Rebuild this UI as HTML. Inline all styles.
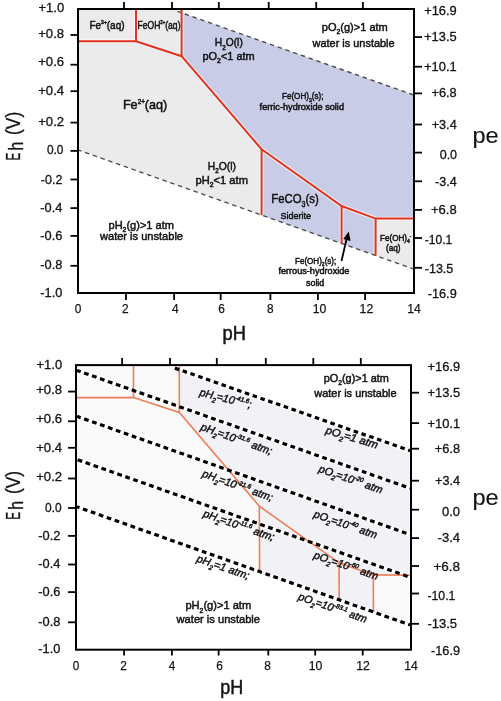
<!DOCTYPE html>
<html><head><meta charset="utf-8"><title>Iron Pourbaix diagram</title>
<style>
html,body{margin:0;padding:0;background:#fff;}
svg{display:block;font-family:"Liberation Sans", Arial, sans-serif;}
text{stroke:#141414;}
</style></head>
<body>
<svg width="501" height="701" viewBox="0 0 501 701">
<rect width="501" height="701" fill="#ffffff"/>
<rect x="78" y="9" width="336" height="284" fill="#ffffff"/>
<polygon points="79.00,10.00 177.60,10.00 177.60,11.43 413.00,94.77 413.00,268.89 79.00,150.32" fill="#ebebeb"/>
<polygon points="181.60,12.85 413.00,94.77 413.00,218.60 375.60,218.60 375.60,255.62 341.60,243.55 261.60,215.15 261.60,149.20 181.60,56.20" fill="#c9cce6"/>
<polyline points="79.00,41.20 136.00,41.20 181.60,56.20 261.60,149.20 341.60,206.00 375.60,218.60 413.00,218.60" fill="none" stroke="#f6f6f6" stroke-width="3.9" stroke-linejoin="miter"/>
<polyline points="136.00,10.00 136.00,41.20" fill="none" stroke="#f6f6f6" stroke-width="3.9" stroke-linejoin="miter"/>
<polyline points="181.60,10.00 181.60,56.20" fill="none" stroke="#f6f6f6" stroke-width="3.9" stroke-linejoin="miter"/>
<polyline points="261.60,149.20 261.60,215.15" fill="none" stroke="#f6f6f6" stroke-width="3.9" stroke-linejoin="miter"/>
<polyline points="341.60,206.00 341.60,243.55" fill="none" stroke="#f6f6f6" stroke-width="3.9" stroke-linejoin="miter"/>
<polyline points="375.60,218.60 375.60,255.62" fill="none" stroke="#f6f6f6" stroke-width="3.9" stroke-linejoin="miter"/>
<line x1="79.00" y1="150.32" x2="413.00" y2="268.89" stroke="#4a4a4a" stroke-width="1.4" stroke-dasharray="4.46 3.76" stroke-dashoffset="1.85"/>
<line x1="177.60" y1="11.43" x2="413.00" y2="94.77" stroke="#4a4a4a" stroke-width="1.4" stroke-dasharray="4.35 3.86" stroke-dashoffset="0.57"/>
<polyline points="79.00,41.20 136.00,41.20 181.60,56.20 261.60,149.20 341.60,206.00 375.60,218.60 413.00,218.60" fill="none" stroke="#e0321f" stroke-width="2" stroke-linejoin="miter"/>
<polyline points="136.00,10.00 136.00,41.20" fill="none" stroke="#e0321f" stroke-width="2" stroke-linejoin="miter"/>
<polyline points="181.60,10.00 181.60,56.20" fill="none" stroke="#e0321f" stroke-width="2" stroke-linejoin="miter"/>
<polyline points="261.60,149.20 261.60,215.15" fill="none" stroke="#e0321f" stroke-width="2" stroke-linejoin="miter"/>
<polyline points="341.60,206.00 341.60,243.55" fill="none" stroke="#e0321f" stroke-width="2" stroke-linejoin="miter"/>
<polyline points="375.60,218.60 375.60,255.62" fill="none" stroke="#e0321f" stroke-width="2" stroke-linejoin="miter"/>
<line x1="341.50" y1="261.00" x2="346.60" y2="239.00" stroke="#000" stroke-width="1.8"/>
<polygon points="348.80,231.50 343.30,239.00 350.60,241.00" fill="#000"/>
<rect x="78" y="9" width="336" height="284" fill="none" stroke="#000" stroke-width="2"/>
<line x1="124.00" y1="2.00" x2="124.00" y2="9.00" stroke="#000" stroke-width="1.8"/>
<line x1="172.00" y1="2.00" x2="172.00" y2="9.00" stroke="#000" stroke-width="1.8"/>
<line x1="218.80" y1="2.00" x2="218.80" y2="9.00" stroke="#000" stroke-width="1.8"/>
<line x1="268.70" y1="2.00" x2="268.70" y2="9.00" stroke="#000" stroke-width="1.8"/>
<line x1="316.20" y1="2.00" x2="316.20" y2="9.00" stroke="#000" stroke-width="1.8"/>
<line x1="362.90" y1="2.00" x2="362.90" y2="9.00" stroke="#000" stroke-width="1.8"/>
<line x1="126.00" y1="293.00" x2="126.00" y2="300.00" stroke="#000" stroke-width="1.8"/>
<line x1="174.10" y1="293.00" x2="174.10" y2="300.00" stroke="#000" stroke-width="1.8"/>
<line x1="220.70" y1="293.00" x2="220.70" y2="300.00" stroke="#000" stroke-width="1.8"/>
<line x1="270.40" y1="293.00" x2="270.40" y2="300.00" stroke="#000" stroke-width="1.8"/>
<line x1="317.90" y1="293.00" x2="317.90" y2="300.00" stroke="#000" stroke-width="1.8"/>
<line x1="365.10" y1="293.00" x2="365.10" y2="300.00" stroke="#000" stroke-width="1.8"/>
<line x1="70.50" y1="35.00" x2="78.00" y2="35.00" stroke="#000" stroke-width="1.8"/>
<line x1="70.50" y1="64.70" x2="78.00" y2="64.70" stroke="#000" stroke-width="1.8"/>
<line x1="70.50" y1="91.20" x2="78.00" y2="91.20" stroke="#000" stroke-width="1.8"/>
<line x1="70.50" y1="122.60" x2="78.00" y2="122.60" stroke="#000" stroke-width="1.8"/>
<line x1="70.50" y1="150.90" x2="78.00" y2="150.90" stroke="#000" stroke-width="1.8"/>
<line x1="70.50" y1="179.50" x2="78.00" y2="179.50" stroke="#000" stroke-width="1.8"/>
<line x1="70.50" y1="208.10" x2="78.00" y2="208.10" stroke="#000" stroke-width="1.8"/>
<line x1="70.50" y1="235.90" x2="78.00" y2="235.90" stroke="#000" stroke-width="1.8"/>
<line x1="70.50" y1="265.80" x2="78.00" y2="265.80" stroke="#000" stroke-width="1.8"/>
<line x1="414.00" y1="37.10" x2="422.00" y2="37.10" stroke="#000" stroke-width="1.8"/>
<line x1="414.00" y1="66.70" x2="422.00" y2="66.70" stroke="#000" stroke-width="1.8"/>
<line x1="414.00" y1="93.40" x2="422.00" y2="93.40" stroke="#000" stroke-width="1.8"/>
<line x1="414.00" y1="124.50" x2="422.00" y2="124.50" stroke="#000" stroke-width="1.8"/>
<line x1="414.00" y1="152.60" x2="422.00" y2="152.60" stroke="#000" stroke-width="1.8"/>
<line x1="414.00" y1="181.30" x2="422.00" y2="181.30" stroke="#000" stroke-width="1.8"/>
<line x1="414.00" y1="209.90" x2="422.00" y2="209.90" stroke="#000" stroke-width="1.8"/>
<line x1="414.00" y1="238.00" x2="422.00" y2="238.00" stroke="#000" stroke-width="1.8"/>
<line x1="414.00" y1="267.80" x2="422.00" y2="267.80" stroke="#000" stroke-width="1.8"/>
<text x="64.10" y="12.20" font-size="12.5" text-anchor="end" fill="#141414" textLength="25.60" lengthAdjust="spacingAndGlyphs" stroke-width="0.3"><tspan font-size="12.50">+1.0</tspan></text>
<text x="64.10" y="38.30" font-size="12.5" text-anchor="end" fill="#141414" textLength="25.90" lengthAdjust="spacingAndGlyphs" stroke-width="0.3"><tspan font-size="12.50">+0.8</tspan></text>
<text x="64.10" y="66.40" font-size="12.5" text-anchor="end" fill="#141414" textLength="25.90" lengthAdjust="spacingAndGlyphs" stroke-width="0.3"><tspan font-size="12.50">+0.6</tspan></text>
<text x="64.10" y="95.20" font-size="12.5" text-anchor="end" fill="#141414" textLength="25.90" lengthAdjust="spacingAndGlyphs" stroke-width="0.3"><tspan font-size="12.50">+0.4</tspan></text>
<text x="64.10" y="125.90" font-size="12.5" text-anchor="end" fill="#141414" textLength="25.90" lengthAdjust="spacingAndGlyphs" stroke-width="0.3"><tspan font-size="12.50">+0.2</tspan></text>
<text x="63.50" y="154.20" font-size="12.5" text-anchor="end" fill="#141414" textLength="16.60" lengthAdjust="spacingAndGlyphs" stroke-width="0.3"><tspan font-size="12.50">0.0</tspan></text>
<text x="62.40" y="183.90" font-size="12.5" text-anchor="end" fill="#141414" textLength="21.60" lengthAdjust="spacingAndGlyphs" stroke-width="0.3"><tspan font-size="12.50">-0.2</tspan></text>
<text x="62.40" y="212.00" font-size="12.5" text-anchor="end" fill="#141414" textLength="22.10" lengthAdjust="spacingAndGlyphs" stroke-width="0.3"><tspan font-size="12.50">-0.4</tspan></text>
<text x="62.40" y="239.90" font-size="12.5" text-anchor="end" fill="#141414" textLength="22.10" lengthAdjust="spacingAndGlyphs" stroke-width="0.3"><tspan font-size="12.50">-0.6</tspan></text>
<text x="62.40" y="269.20" font-size="12.5" text-anchor="end" fill="#141414" textLength="22.10" lengthAdjust="spacingAndGlyphs" stroke-width="0.3"><tspan font-size="12.50">-0.8</tspan></text>
<text x="62.40" y="296.60" font-size="12.5" text-anchor="end" fill="#141414" textLength="22.10" lengthAdjust="spacingAndGlyphs" stroke-width="0.3"><tspan font-size="12.50">-1.0</tspan></text>
<text x="424.20" y="14.90" font-size="12.5" text-anchor="start" fill="#141414" textLength="32.60" lengthAdjust="spacingAndGlyphs" stroke-width="0.3"><tspan font-size="12.50">+16.9</tspan></text>
<text x="424.10" y="40.60" font-size="12.5" text-anchor="start" fill="#141414" textLength="32.60" lengthAdjust="spacingAndGlyphs" stroke-width="0.3"><tspan font-size="12.50">+13.5</tspan></text>
<text x="424.10" y="71.30" font-size="12.5" text-anchor="start" fill="#141414" textLength="32.60" lengthAdjust="spacingAndGlyphs" stroke-width="0.3"><tspan font-size="12.50">+10.1</tspan></text>
<text x="431.50" y="97.10" font-size="12.5" text-anchor="start" fill="#141414" textLength="25.20" lengthAdjust="spacingAndGlyphs" stroke-width="0.3"><tspan font-size="12.50">+6.8</tspan></text>
<text x="431.70" y="129.00" font-size="12.5" text-anchor="start" fill="#141414" textLength="25.00" lengthAdjust="spacingAndGlyphs" stroke-width="0.3"><tspan font-size="12.50">+3.4</tspan></text>
<text x="439.70" y="159.20" font-size="12.5" text-anchor="start" fill="#141414" textLength="17.40" lengthAdjust="spacingAndGlyphs" stroke-width="0.3"><tspan font-size="12.50">0.0</tspan></text>
<text x="435.00" y="186.10" font-size="12.5" text-anchor="start" fill="#141414" textLength="21.70" lengthAdjust="spacingAndGlyphs" stroke-width="0.3"><tspan font-size="12.50">-3.4</tspan></text>
<text x="431.00" y="214.30" font-size="12.5" text-anchor="start" fill="#141414" textLength="25.70" lengthAdjust="spacingAndGlyphs" stroke-width="0.3"><tspan font-size="12.50">+6.8</tspan></text>
<text x="424.80" y="243.50" font-size="12.5" text-anchor="start" fill="#141414" textLength="27.40" lengthAdjust="spacingAndGlyphs" stroke-width="0.3"><tspan font-size="12.50">-10.1</tspan></text>
<text x="424.80" y="272.70" font-size="12.5" text-anchor="start" fill="#141414" textLength="28.50" lengthAdjust="spacingAndGlyphs" stroke-width="0.3"><tspan font-size="12.50">-13.5</tspan></text>
<text x="427.80" y="298.30" font-size="12.5" text-anchor="start" fill="#141414" textLength="28.90" lengthAdjust="spacingAndGlyphs" stroke-width="0.3"><tspan font-size="12.50">-16.9</tspan></text>
<text x="78.00" y="313.20" font-size="13.6" text-anchor="middle" fill="#141414" textLength="6.60" lengthAdjust="spacingAndGlyphs" stroke-width="0.25"><tspan font-size="13.60">0</tspan></text>
<text x="125.40" y="313.20" font-size="13.6" text-anchor="middle" fill="#141414" textLength="6.60" lengthAdjust="spacingAndGlyphs" stroke-width="0.25"><tspan font-size="13.60">2</tspan></text>
<text x="175.20" y="313.20" font-size="13.6" text-anchor="middle" fill="#141414" textLength="6.60" lengthAdjust="spacingAndGlyphs" stroke-width="0.25"><tspan font-size="13.60">4</tspan></text>
<text x="221.50" y="313.20" font-size="13.6" text-anchor="middle" fill="#141414" textLength="6.60" lengthAdjust="spacingAndGlyphs" stroke-width="0.25"><tspan font-size="13.60">6</tspan></text>
<text x="270.40" y="313.20" font-size="13.6" text-anchor="middle" fill="#141414" textLength="6.60" lengthAdjust="spacingAndGlyphs" stroke-width="0.25"><tspan font-size="13.60">8</tspan></text>
<text x="319.50" y="313.20" font-size="13.6" text-anchor="middle" fill="#141414" textLength="13.60" lengthAdjust="spacingAndGlyphs" stroke-width="0.25"><tspan font-size="13.60">10</tspan></text>
<text x="366.40" y="313.20" font-size="13.6" text-anchor="middle" fill="#141414" textLength="13.60" lengthAdjust="spacingAndGlyphs" stroke-width="0.25"><tspan font-size="13.60">12</tspan></text>
<text x="414.00" y="313.20" font-size="13.6" text-anchor="middle" fill="#141414" textLength="13.60" lengthAdjust="spacingAndGlyphs" stroke-width="0.25"><tspan font-size="13.60">14</tspan></text>
<text x="222.60" y="339.70" font-size="19.5" text-anchor="start" fill="#141414" textLength="23.40" lengthAdjust="spacingAndGlyphs" stroke-width="0.5"><tspan font-size="19.50">pH</tspan></text>
<text x="472.40" y="143.40" font-size="22.5" text-anchor="start" fill="#141414" textLength="26.20" lengthAdjust="spacingAndGlyphs" stroke-width="0.15"><tspan font-size="22.50">pe</tspan></text>
<text transform="translate(20.3,160.60) rotate(-90)" font-size="19.5" fill="#141414" stroke-width="0.3" textLength="7.8" lengthAdjust="spacingAndGlyphs">E</text>
<text transform="translate(22.5,150.60) rotate(-90)" font-size="19.5" fill="#141414" stroke-width="0.3" textLength="8.8" lengthAdjust="spacingAndGlyphs">h</text>
<text transform="translate(20.0,135.00) rotate(-90)" font-size="19.5" fill="#141414" stroke-width="0.3" textLength="23.2" lengthAdjust="spacingAndGlyphs">(V)</text>
<text x="89.50" y="28.50" font-size="10.5" text-anchor="start" fill="#141414" textLength="35.00" lengthAdjust="spacingAndGlyphs" stroke-width="0.5"><tspan font-size="10.50">Fe</tspan><tspan font-size="5.25" dy="-4.41">3+</tspan><tspan font-size="10.50" dy="4.41">(aq)</tspan></text>
<text x="137.50" y="28.50" font-size="10.5" text-anchor="start" fill="#141414" textLength="43.00" lengthAdjust="spacingAndGlyphs" stroke-width="0.5"><tspan font-size="10.50">FeOH</tspan><tspan font-size="5.25" dy="-4.41">2+</tspan><tspan font-size="10.50" dy="4.41">(aq)</tspan></text>
<text x="321.80" y="31.00" font-size="11.5" text-anchor="start" fill="#141414" textLength="66.00" lengthAdjust="spacingAndGlyphs" stroke-width="0.5"><tspan font-size="11.50">pO</tspan><tspan font-size="7.13" dy="3.45">2</tspan><tspan font-size="11.50" dy="-3.45">(g)&gt;1 atm</tspan></text>
<text x="312.60" y="47.00" font-size="11.5" text-anchor="start" fill="#141414" textLength="82.00" lengthAdjust="spacingAndGlyphs" stroke-width="0.5"><tspan font-size="11.50">water is unstable</tspan></text>
<text x="214.80" y="46.20" font-size="11.3" text-anchor="start" fill="#141414" textLength="28.00" lengthAdjust="spacingAndGlyphs" stroke-width="0.5"><tspan font-size="11.30">H</tspan><tspan font-size="7.01" dy="3.39">2</tspan><tspan font-size="11.30" dy="-3.39">O(l)</tspan></text>
<text x="202.50" y="59.80" font-size="11.3" text-anchor="start" fill="#141414" textLength="52.20" lengthAdjust="spacingAndGlyphs" stroke-width="0.5"><tspan font-size="11.30">pO</tspan><tspan font-size="7.01" dy="3.39">2</tspan><tspan font-size="11.30" dy="-3.39">&lt;1 atm</tspan></text>
<text x="122.90" y="108.90" font-size="12.7" text-anchor="start" fill="#141414" textLength="44.40" lengthAdjust="spacingAndGlyphs" stroke-width="0.5"><tspan font-size="12.70">Fe</tspan><tspan font-size="6.35" dy="-5.33">2+</tspan><tspan font-size="12.70" dy="5.33">(aq)</tspan></text>
<text x="282.00" y="98.80" font-size="9.2" text-anchor="start" fill="#141414" textLength="41.40" lengthAdjust="spacingAndGlyphs" stroke-width="0.5"><tspan font-size="9.20">Fe(OH)</tspan><tspan font-size="5.70" dy="2.76">3</tspan><tspan font-size="9.20" dy="-2.76">(s);</tspan></text>
<text x="259.60" y="109.90" font-size="9" text-anchor="start" fill="#141414" textLength="84.40" lengthAdjust="spacingAndGlyphs" stroke-width="0.5"><tspan font-size="9.00">ferric-hydroxide solid</tspan></text>
<text x="207.70" y="170.10" font-size="11" text-anchor="start" fill="#141414" textLength="28.20" lengthAdjust="spacingAndGlyphs" stroke-width="0.5"><tspan font-size="11.00">H</tspan><tspan font-size="6.82" dy="3.30">2</tspan><tspan font-size="11.00" dy="-3.30">O(l)</tspan></text>
<text x="195.60" y="184.00" font-size="11" text-anchor="start" fill="#141414" textLength="52.30" lengthAdjust="spacingAndGlyphs" stroke-width="0.5"><tspan font-size="11.00">pH</tspan><tspan font-size="6.82" dy="3.30">2</tspan><tspan font-size="11.00" dy="-3.30">&lt;1 atm</tspan></text>
<text x="271.30" y="202.90" font-size="13.3" text-anchor="start" fill="#141414" textLength="47.50" lengthAdjust="spacingAndGlyphs" stroke-width="0.5"><tspan font-size="13.30">FeCO</tspan><tspan font-size="8.25" dy="3.99">3</tspan><tspan font-size="13.30" dy="-3.99">(s)</tspan></text>
<text x="280.60" y="218.50" font-size="9.8" text-anchor="start" fill="#141414" textLength="30.50" lengthAdjust="spacingAndGlyphs" stroke-width="0.5"><tspan font-size="9.80">Siderite</tspan></text>
<text x="108.50" y="228.90" font-size="11.5" text-anchor="start" fill="#141414" textLength="65.50" lengthAdjust="spacingAndGlyphs" stroke-width="0.5"><tspan font-size="11.50">pH</tspan><tspan font-size="7.13" dy="3.45">2</tspan><tspan font-size="11.50" dy="-3.45">(g)&gt;1 atm</tspan></text>
<text x="100.00" y="239.60" font-size="11.5" text-anchor="start" fill="#141414" textLength="83.00" lengthAdjust="spacingAndGlyphs" stroke-width="0.5"><tspan font-size="11.50">water is unstable</tspan></text>
<text x="295.00" y="263.60" font-size="9" text-anchor="start" fill="#141414" textLength="41.30" lengthAdjust="spacingAndGlyphs" stroke-width="0.5"><tspan font-size="9.00">Fe(OH)</tspan><tspan font-size="5.58" dy="2.70">2</tspan><tspan font-size="9.00" dy="-2.70">(s);</tspan></text>
<text x="278.40" y="274.40" font-size="9" text-anchor="start" fill="#141414" textLength="71.00" lengthAdjust="spacingAndGlyphs" stroke-width="0.5"><tspan font-size="9.00">ferrous-hydroxide</tspan></text>
<text x="306.00" y="285.50" font-size="9" text-anchor="start" fill="#141414" textLength="18.30" lengthAdjust="spacingAndGlyphs" stroke-width="0.5"><tspan font-size="9.00">solid</tspan></text>
<text x="380.00" y="240.80" font-size="8.5" text-anchor="start" fill="#141414" textLength="31.20" lengthAdjust="spacingAndGlyphs" stroke-width="0.5"><tspan font-size="8.50">Fe(OH)</tspan><tspan font-size="5.27" dy="2.55">4</tspan><tspan font-size="4.25" dy="-6.12">-</tspan></text>
<text x="386.00" y="250.80" font-size="8.5" text-anchor="start" fill="#141414" textLength="14.40" lengthAdjust="spacingAndGlyphs" stroke-width="0.5"><tspan font-size="8.50">(aq)</tspan></text>
<rect x="76" y="365.1" width="335" height="284.6" fill="#ffffff"/>
<polygon points="77.00,366.10 169.12,366.10 410.00,450.65 410.00,624.95 77.00,506.85" fill="#fafafa"/>
<polygon points="179.30,366.10 169.12,366.10 410.00,450.65 410.00,574.90 373.30,574.90 373.30,611.93 339.10,599.80 259.30,571.50 259.30,506.20 179.30,412.50" fill="#f1f1f6"/>
<polygon points="169.12,366.10 410.00,366.10 410.00,450.65" fill="#ffffff"/>
<line x1="77.00" y1="370.45" x2="410.00" y2="488.25" stroke="#ffffff" stroke-width="5.0"/>
<line x1="77.00" y1="416.35" x2="410.00" y2="534.55" stroke="#ffffff" stroke-width="5.0"/>
<line x1="77.00" y1="459.55" x2="410.00" y2="577.25" stroke="#ffffff" stroke-width="5.0"/>
<line x1="77.00" y1="506.85" x2="410.00" y2="624.95" stroke="#ffffff" stroke-width="5.0"/>
<line x1="174.60" y1="368.02" x2="410.00" y2="450.65" stroke="#ffffff" stroke-width="5.0"/>
<polyline points="77.00,397.60 133.50,397.60 179.30,412.50 259.30,506.20 339.10,562.80 373.30,574.90 410.00,575.30" fill="none" stroke="#ef7d58" stroke-width="1.6"/>
<polyline points="133.50,366.10 133.50,397.60" fill="none" stroke="#ef7d58" stroke-width="1.6"/>
<polyline points="179.30,366.10 179.30,412.50" fill="none" stroke="#ef7d58" stroke-width="1.6"/>
<polyline points="259.30,506.20 259.60,571.61" fill="none" stroke="#ef7d58" stroke-width="1.6"/>
<polyline points="339.10,562.80 339.20,599.84" fill="none" stroke="#ef7d58" stroke-width="1.6"/>
<polyline points="373.30,574.90 373.50,612.00" fill="none" stroke="#ef7d58" stroke-width="1.6"/>
<line x1="77.00" y1="370.45" x2="410.00" y2="488.25" stroke="#000" stroke-width="3.2" stroke-dasharray="4.77 3.65" stroke-dashoffset="0.89"/>
<line x1="77.00" y1="416.35" x2="410.00" y2="534.55" stroke="#000" stroke-width="3.2" stroke-dasharray="4.78 3.65" stroke-dashoffset="0.89"/>
<line x1="77.00" y1="459.55" x2="410.00" y2="577.25" stroke="#000" stroke-width="3.2" stroke-dasharray="4.77 3.65" stroke-dashoffset="7.72"/>
<line x1="77.00" y1="506.85" x2="410.00" y2="624.95" stroke="#000" stroke-width="3.2" stroke-dasharray="4.77 3.65" stroke-dashoffset="2.16"/>
<line x1="174.60" y1="368.02" x2="410.00" y2="450.65" stroke="#000" stroke-width="3.2" stroke-dasharray="4.56 3.68" stroke-dashoffset="7.92"/>
<rect x="76" y="365.1" width="335" height="284.6" fill="none" stroke="#000" stroke-width="2"/>
<line x1="122.10" y1="358.00" x2="122.10" y2="365.10" stroke="#000" stroke-width="1.8"/>
<line x1="170.00" y1="358.00" x2="170.00" y2="365.10" stroke="#000" stroke-width="1.8"/>
<line x1="216.80" y1="358.00" x2="216.80" y2="365.10" stroke="#000" stroke-width="1.8"/>
<line x1="265.80" y1="358.00" x2="265.80" y2="365.10" stroke="#000" stroke-width="1.8"/>
<line x1="313.30" y1="358.00" x2="313.30" y2="365.10" stroke="#000" stroke-width="1.8"/>
<line x1="360.80" y1="358.00" x2="360.80" y2="365.10" stroke="#000" stroke-width="1.8"/>
<line x1="124.10" y1="649.70" x2="124.10" y2="655.50" stroke="#000" stroke-width="1.8"/>
<line x1="171.90" y1="649.70" x2="171.90" y2="655.50" stroke="#000" stroke-width="1.8"/>
<line x1="218.60" y1="649.70" x2="218.60" y2="655.50" stroke="#000" stroke-width="1.8"/>
<line x1="268.30" y1="649.70" x2="268.30" y2="655.50" stroke="#000" stroke-width="1.8"/>
<line x1="315.20" y1="649.70" x2="315.20" y2="655.50" stroke="#000" stroke-width="1.8"/>
<line x1="362.70" y1="649.70" x2="362.70" y2="655.50" stroke="#000" stroke-width="1.8"/>
<line x1="68.10" y1="391.60" x2="76.00" y2="391.60" stroke="#000" stroke-width="1.8"/>
<line x1="68.10" y1="421.30" x2="76.00" y2="421.30" stroke="#000" stroke-width="1.8"/>
<line x1="68.10" y1="447.80" x2="76.00" y2="447.80" stroke="#000" stroke-width="1.8"/>
<line x1="68.10" y1="478.50" x2="76.00" y2="478.50" stroke="#000" stroke-width="1.8"/>
<line x1="68.10" y1="508.00" x2="76.00" y2="508.00" stroke="#000" stroke-width="1.8"/>
<line x1="68.10" y1="535.90" x2="76.00" y2="535.90" stroke="#000" stroke-width="1.8"/>
<line x1="68.10" y1="564.50" x2="76.00" y2="564.50" stroke="#000" stroke-width="1.8"/>
<line x1="68.10" y1="592.10" x2="76.00" y2="592.10" stroke="#000" stroke-width="1.8"/>
<line x1="68.10" y1="622.30" x2="76.00" y2="622.30" stroke="#000" stroke-width="1.8"/>
<line x1="411.00" y1="392.70" x2="419.00" y2="392.70" stroke="#000" stroke-width="1.8"/>
<line x1="411.00" y1="423.10" x2="419.00" y2="423.10" stroke="#000" stroke-width="1.8"/>
<line x1="411.00" y1="448.70" x2="419.00" y2="448.70" stroke="#000" stroke-width="1.8"/>
<line x1="411.00" y1="480.70" x2="419.00" y2="480.70" stroke="#000" stroke-width="1.8"/>
<line x1="411.00" y1="509.70" x2="419.00" y2="509.70" stroke="#000" stroke-width="1.8"/>
<line x1="411.00" y1="538.10" x2="419.00" y2="538.10" stroke="#000" stroke-width="1.8"/>
<line x1="411.00" y1="566.00" x2="419.00" y2="566.00" stroke="#000" stroke-width="1.8"/>
<line x1="411.00" y1="593.50" x2="419.00" y2="593.50" stroke="#000" stroke-width="1.8"/>
<line x1="411.00" y1="623.80" x2="419.00" y2="623.80" stroke="#000" stroke-width="1.8"/>
<text x="62.10" y="368.70" font-size="12.5" text-anchor="end" fill="#141414" textLength="25.60" lengthAdjust="spacingAndGlyphs" stroke-width="0.3"><tspan font-size="12.50">+1.0</tspan></text>
<text x="62.10" y="394.30" font-size="12.5" text-anchor="end" fill="#141414" textLength="25.90" lengthAdjust="spacingAndGlyphs" stroke-width="0.3"><tspan font-size="12.50">+0.8</tspan></text>
<text x="62.10" y="422.90" font-size="12.5" text-anchor="end" fill="#141414" textLength="25.90" lengthAdjust="spacingAndGlyphs" stroke-width="0.3"><tspan font-size="12.50">+0.6</tspan></text>
<text x="62.10" y="451.50" font-size="12.5" text-anchor="end" fill="#141414" textLength="25.90" lengthAdjust="spacingAndGlyphs" stroke-width="0.3"><tspan font-size="12.50">+0.4</tspan></text>
<text x="62.10" y="481.20" font-size="12.5" text-anchor="end" fill="#141414" textLength="25.90" lengthAdjust="spacingAndGlyphs" stroke-width="0.3"><tspan font-size="12.50">+0.2</tspan></text>
<text x="61.70" y="511.90" font-size="12.5" text-anchor="end" fill="#141414" textLength="16.60" lengthAdjust="spacingAndGlyphs" stroke-width="0.3"><tspan font-size="12.50">0.0</tspan></text>
<text x="60.40" y="539.80" font-size="12.5" text-anchor="end" fill="#141414" textLength="22.10" lengthAdjust="spacingAndGlyphs" stroke-width="0.3"><tspan font-size="12.50">-0.2</tspan></text>
<text x="60.40" y="568.30" font-size="12.5" text-anchor="end" fill="#141414" textLength="22.10" lengthAdjust="spacingAndGlyphs" stroke-width="0.3"><tspan font-size="12.50">-0.4</tspan></text>
<text x="60.40" y="595.80" font-size="12.5" text-anchor="end" fill="#141414" textLength="22.10" lengthAdjust="spacingAndGlyphs" stroke-width="0.3"><tspan font-size="12.50">-0.6</tspan></text>
<text x="60.40" y="625.50" font-size="12.5" text-anchor="end" fill="#141414" textLength="22.10" lengthAdjust="spacingAndGlyphs" stroke-width="0.3"><tspan font-size="12.50">-0.8</tspan></text>
<text x="60.40" y="652.90" font-size="12.5" text-anchor="end" fill="#141414" textLength="22.10" lengthAdjust="spacingAndGlyphs" stroke-width="0.3"><tspan font-size="12.50">-1.0</tspan></text>
<text x="427.50" y="371.00" font-size="12.5" text-anchor="start" fill="#141414" textLength="32.60" lengthAdjust="spacingAndGlyphs" stroke-width="0.3"><tspan font-size="12.50">+16.9</tspan></text>
<text x="427.50" y="397.30" font-size="12.5" text-anchor="start" fill="#141414" textLength="32.60" lengthAdjust="spacingAndGlyphs" stroke-width="0.3"><tspan font-size="12.50">+13.5</tspan></text>
<text x="427.50" y="427.70" font-size="12.5" text-anchor="start" fill="#141414" textLength="32.60" lengthAdjust="spacingAndGlyphs" stroke-width="0.3"><tspan font-size="12.50">+10.1</tspan></text>
<text x="434.80" y="453.30" font-size="12.5" text-anchor="start" fill="#141414" textLength="25.20" lengthAdjust="spacingAndGlyphs" stroke-width="0.3"><tspan font-size="12.50">+6.8</tspan></text>
<text x="435.00" y="485.30" font-size="12.5" text-anchor="start" fill="#141414" textLength="25.00" lengthAdjust="spacingAndGlyphs" stroke-width="0.3"><tspan font-size="12.50">+3.4</tspan></text>
<text x="442.00" y="515.50" font-size="12.5" text-anchor="start" fill="#141414" textLength="18.00" lengthAdjust="spacingAndGlyphs" stroke-width="0.3"><tspan font-size="12.50">0.0</tspan></text>
<text x="437.60" y="542.20" font-size="12.5" text-anchor="start" fill="#141414" textLength="22.50" lengthAdjust="spacingAndGlyphs" stroke-width="0.3"><tspan font-size="12.50">-3.4</tspan></text>
<text x="433.50" y="570.60" font-size="12.5" text-anchor="start" fill="#141414" textLength="26.60" lengthAdjust="spacingAndGlyphs" stroke-width="0.3"><tspan font-size="12.50">+6.8</tspan></text>
<text x="427.40" y="600.00" font-size="12.5" text-anchor="start" fill="#141414" textLength="28.00" lengthAdjust="spacingAndGlyphs" stroke-width="0.3"><tspan font-size="12.50">-10.1</tspan></text>
<text x="427.40" y="628.40" font-size="12.5" text-anchor="start" fill="#141414" textLength="29.60" lengthAdjust="spacingAndGlyphs" stroke-width="0.3"><tspan font-size="12.50">-13.5</tspan></text>
<text x="431.00" y="655.20" font-size="12.5" text-anchor="start" fill="#141414" textLength="29.00" lengthAdjust="spacingAndGlyphs" stroke-width="0.3"><tspan font-size="12.50">-16.9</tspan></text>
<text x="76.00" y="669.70" font-size="13.6" text-anchor="middle" fill="#141414" textLength="6.60" lengthAdjust="spacingAndGlyphs" stroke-width="0.25"><tspan font-size="13.60">0</tspan></text>
<text x="123.50" y="669.70" font-size="13.6" text-anchor="middle" fill="#141414" textLength="6.60" lengthAdjust="spacingAndGlyphs" stroke-width="0.25"><tspan font-size="13.60">2</tspan></text>
<text x="172.00" y="669.70" font-size="13.6" text-anchor="middle" fill="#141414" textLength="6.60" lengthAdjust="spacingAndGlyphs" stroke-width="0.25"><tspan font-size="13.60">4</tspan></text>
<text x="219.50" y="669.70" font-size="13.6" text-anchor="middle" fill="#141414" textLength="6.60" lengthAdjust="spacingAndGlyphs" stroke-width="0.25"><tspan font-size="13.60">6</tspan></text>
<text x="267.50" y="669.70" font-size="13.6" text-anchor="middle" fill="#141414" textLength="6.60" lengthAdjust="spacingAndGlyphs" stroke-width="0.25"><tspan font-size="13.60">8</tspan></text>
<text x="315.50" y="669.70" font-size="13.6" text-anchor="middle" fill="#141414" textLength="13.60" lengthAdjust="spacingAndGlyphs" stroke-width="0.25"><tspan font-size="13.60">10</tspan></text>
<text x="363.00" y="669.70" font-size="13.6" text-anchor="middle" fill="#141414" textLength="13.60" lengthAdjust="spacingAndGlyphs" stroke-width="0.25"><tspan font-size="13.60">12</tspan></text>
<text x="411.00" y="669.70" font-size="13.6" text-anchor="middle" fill="#141414" textLength="13.60" lengthAdjust="spacingAndGlyphs" stroke-width="0.25"><tspan font-size="13.60">14</tspan></text>
<text x="220.20" y="693.70" font-size="19.5" text-anchor="start" fill="#141414" textLength="23.00" lengthAdjust="spacingAndGlyphs" stroke-width="0.5"><tspan font-size="19.50">pH</tspan></text>
<text x="472.40" y="504.60" font-size="22.5" text-anchor="start" fill="#141414" textLength="26.20" lengthAdjust="spacingAndGlyphs" stroke-width="0.15"><tspan font-size="22.50">pe</tspan></text>
<text transform="translate(20.3,519.70) rotate(-90)" font-size="19.5" fill="#141414" stroke-width="0.3" textLength="7.8" lengthAdjust="spacingAndGlyphs">E</text>
<text transform="translate(22.5,509.70) rotate(-90)" font-size="19.5" fill="#141414" stroke-width="0.3" textLength="8.8" lengthAdjust="spacingAndGlyphs">h</text>
<text transform="translate(20.0,494.10) rotate(-90)" font-size="19.5" fill="#141414" stroke-width="0.3" textLength="23.2" lengthAdjust="spacingAndGlyphs">(V)</text>
<text x="323.70" y="382.00" font-size="11.5" text-anchor="start" fill="#141414" textLength="65.20" lengthAdjust="spacingAndGlyphs" stroke-width="0.5"><tspan font-size="11.50">pO</tspan><tspan font-size="7.13" dy="3.45">2</tspan><tspan font-size="11.50" dy="-3.45">(g)&gt;1 atm</tspan></text>
<text x="314.30" y="396.90" font-size="11.5" text-anchor="start" fill="#141414" textLength="82.30" lengthAdjust="spacingAndGlyphs" stroke-width="0.5"><tspan font-size="11.50">water is unstable</tspan></text>
<text x="185.40" y="609.30" font-size="11.5" text-anchor="start" fill="#141414" textLength="65.80" lengthAdjust="spacingAndGlyphs" stroke-width="0.5"><tspan font-size="11.50">pH</tspan><tspan font-size="7.13" dy="3.45">2</tspan><tspan font-size="11.50" dy="-3.45">(g)&gt;1 atm</tspan></text>
<text x="176.60" y="622.50" font-size="11.5" text-anchor="start" fill="#141414" textLength="83.40" lengthAdjust="spacingAndGlyphs" stroke-width="0.5"><tspan font-size="11.50">water is unstable</tspan></text>
<text transform="translate(199.00,395.60) rotate(14.00)" x="0" y="0" font-size="10.8" text-anchor="start" fill="#141414" textLength="53.00" lengthAdjust="spacingAndGlyphs" font-style="italic" stroke-width="0.45"><tspan font-size="10.80">pH</tspan><tspan font-size="6.70" dy="3.24">2</tspan><tspan font-size="10.80" dy="-3.24">=10</tspan><tspan font-size="6.26" dy="-4.54">-41.6</tspan><tspan font-size="10.80" dy="4.54">;</tspan></text>
<text transform="translate(200.00,429.80) rotate(19.50)" x="0" y="0" font-size="10.8" text-anchor="start" fill="#141414" textLength="75.00" lengthAdjust="spacingAndGlyphs" font-style="italic" stroke-width="0.45"><tspan font-size="10.80">pH</tspan><tspan font-size="6.70" dy="3.24">2</tspan><tspan font-size="10.80" dy="-3.24">=10</tspan><tspan font-size="6.26" dy="-4.54">-31.6</tspan><tspan font-size="10.80" dy="4.54"> atm;</tspan></text>
<text transform="translate(201.50,476.60) rotate(19.50)" x="0" y="0" font-size="10.8" text-anchor="start" fill="#141414" textLength="74.00" lengthAdjust="spacingAndGlyphs" font-style="italic" stroke-width="0.45"><tspan font-size="10.80">pH</tspan><tspan font-size="6.70" dy="3.24">2</tspan><tspan font-size="10.80" dy="-3.24">=10</tspan><tspan font-size="6.26" dy="-4.54">-21.6</tspan><tspan font-size="10.80" dy="4.54"> atm;</tspan></text>
<text transform="translate(202.50,516.60) rotate(19.00)" x="0" y="0" font-size="10.8" text-anchor="start" fill="#141414" textLength="74.50" lengthAdjust="spacingAndGlyphs" font-style="italic" stroke-width="0.45"><tspan font-size="10.80">pH</tspan><tspan font-size="6.70" dy="3.24">2</tspan><tspan font-size="10.80" dy="-3.24">=10</tspan><tspan font-size="6.26" dy="-4.54">-11.6</tspan><tspan font-size="10.80" dy="4.54"> atm;</tspan></text>
<text transform="translate(196.00,561.60) rotate(19.00)" x="0" y="0" font-size="10.8" text-anchor="start" fill="#141414" textLength="55.00" lengthAdjust="spacingAndGlyphs" font-style="italic" stroke-width="0.45"><tspan font-size="10.80">pH</tspan><tspan font-size="6.70" dy="3.24">2</tspan><tspan font-size="10.80" dy="-3.24">=1 atm;</tspan></text>
<text transform="translate(325.00,433.30) rotate(16.50)" x="0" y="0" font-size="10.8" text-anchor="start" fill="#141414" textLength="54.00" lengthAdjust="spacingAndGlyphs" font-style="italic" stroke-width="0.45"><tspan font-size="10.80">pO</tspan><tspan font-size="6.70" dy="3.24">2</tspan><tspan font-size="10.80" dy="-3.24">=1 atm</tspan></text>
<text transform="translate(318.00,471.80) rotate(19.00)" x="0" y="0" font-size="10.8" text-anchor="start" fill="#141414" textLength="67.00" lengthAdjust="spacingAndGlyphs" font-style="italic" stroke-width="0.45"><tspan font-size="10.80">pO</tspan><tspan font-size="6.70" dy="3.24">2</tspan><tspan font-size="10.80" dy="-3.24">=10</tspan><tspan font-size="6.26" dy="-4.54">-20</tspan><tspan font-size="10.80" dy="4.54"> atm</tspan></text>
<text transform="translate(313.00,517.00) rotate(19.00)" x="0" y="0" font-size="10.8" text-anchor="start" fill="#141414" textLength="66.50" lengthAdjust="spacingAndGlyphs" font-style="italic" stroke-width="0.45"><tspan font-size="10.80">pO</tspan><tspan font-size="6.70" dy="3.24">2</tspan><tspan font-size="10.80" dy="-3.24">=10</tspan><tspan font-size="6.26" dy="-4.54">-40</tspan><tspan font-size="10.80" dy="4.54"> atm</tspan></text>
<text transform="translate(313.00,558.00) rotate(19.00)" x="0" y="0" font-size="10.8" text-anchor="start" fill="#141414" textLength="67.50" lengthAdjust="spacingAndGlyphs" font-style="italic" stroke-width="0.45"><tspan font-size="10.80">pO</tspan><tspan font-size="6.70" dy="3.24">2</tspan><tspan font-size="10.80" dy="-3.24">=10</tspan><tspan font-size="6.26" dy="-4.54">-60</tspan><tspan font-size="10.80" dy="4.54"> atm</tspan></text>
<text transform="translate(297.50,599.50) rotate(19.00)" x="0" y="0" font-size="10.8" text-anchor="start" fill="#141414" textLength="72.00" lengthAdjust="spacingAndGlyphs" font-style="italic" stroke-width="0.45"><tspan font-size="10.80">pO</tspan><tspan font-size="6.70" dy="3.24">2</tspan><tspan font-size="10.80" dy="-3.24">=10</tspan><tspan font-size="6.26" dy="-4.54">-83.1</tspan><tspan font-size="10.80" dy="4.54"> atm</tspan></text>
</svg>
</body></html>
